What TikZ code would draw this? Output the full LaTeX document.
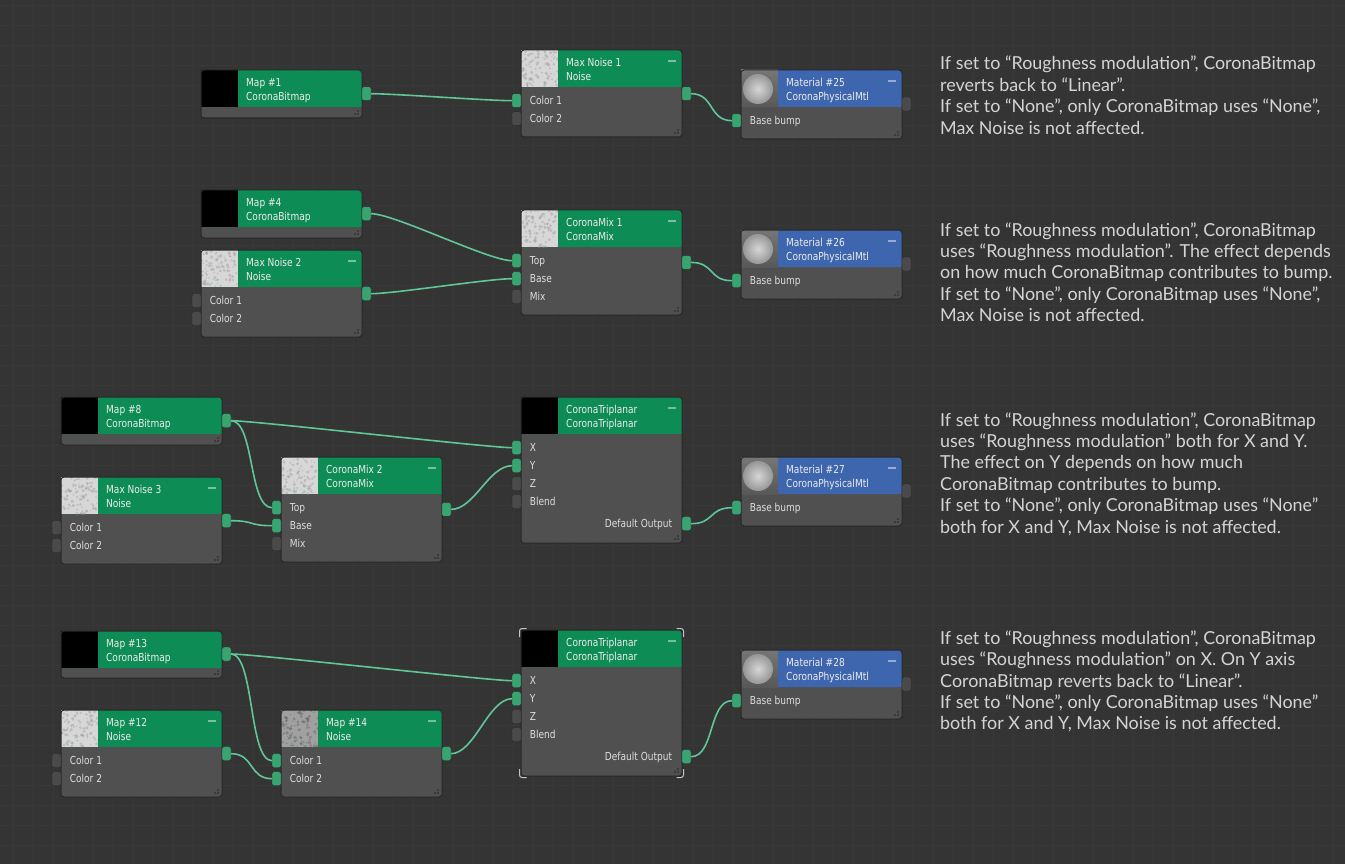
\documentclass[tikz,border=0pt]{standalone}
\usepackage{fontspec}
\newfontfamily\nodefont[FakeStretch=0.82]{DejaVu Sans}
\newfontfamily\notefont{Lato}
\usetikzlibrary{positioning}
\usetikzlibrary{calc}

\tikzset{
  card/.style={anchor=north west, minimum width=161pt, inner sep=0pt, outer sep=0pt},
  cardline/.style={draw=cardedge, line width=1pt, rounded corners=3pt},
  cardtitle/.style={anchor=base west, inner sep=0pt, text=nodetext, font=\nodefont\fontsize{11}{13}\selectfont},
  rowlabel/.style={cardtitle, text=rowtext},
  sockon/.style={draw=sockedge, fill=sockgreen, rounded corners=2pt, minimum width=9pt, minimum height=14pt, inner sep=0pt, outer sep=0pt},
  sockoff/.style={sockon, fill=sockgrey},
  wire/.style={draw=wiregreen, line width=1.6pt, to path={.. controls +(28,0) and +(-28,0) .. (\tikztotarget)}},
  foldbar/.style={draw=white, opacity=0.45, line width=1.6pt},
  selmark/.style={draw=selgrey, line width=1pt, rounded corners=2.5pt},
  note/.style={anchor=base west, align=left, inner sep=0pt, text=notetext, font=\notefont\fontsize{17.9}{21.4}\selectfont},
}

% card with header, thumbnail and resize grip
\newcommand{\card}[7]{%
  \node[card, minimum height=#3] (#1) at (#2) {};
  \fill[cardbody, rounded corners=3pt] (#1.north west) rectangle (#1.south east);
  \fill[#4, rounded corners=3pt] (#1.north west) rectangle ($(#1.north east)+(0,37)$);
  \fill[#4] ($(#1.north west)+(0,30)$) rectangle ($(#1.north east)+(0,37)$);
  \csname thumb#7\endcsname{#1}
  \node[cardtitle] (#1-title) at ($(#1.north west)+(45,16.7)$) {#5};
  \node[cardtitle] (#1-type) at ($(#1.north west)+(45,30.3)$) {#6};
  \foreach \gx/\gy in {4/4,7/4,4/7}
    \fill[gripdot] ($(#1.south east)+(-\gx,-\gy)$) circle (0.8pt);
  \draw[cardline] (#1.north west) rectangle (#1.south east);}

\newcommand{\noisethumb}[3]{%
  \begin{scope}
    \clip (#1.north west) rectangle ($(#1.north west)+(37,37)$);
    \fill[#2] (#1.north west) rectangle ($(#1.north west)+(37,37)$);
    \foreach \k in {1,...,90}{
      \pgfmathsetmacro{\nx}{37*rnd}
      \pgfmathsetmacro{\ny}{37*rnd}
      \pgfmathsetmacro{\nr}{0.6+1.3*rnd}
      \fill[#3, opacity=0.4] ($(#1.north west)+(\nx,\ny)$) circle (\nr pt);
    }
  \end{scope}}
\newcommand{\thumbnoise}[1]{\noisethumb{#1}{noiselight}{noisespot}}
\newcommand{\thumbnoisedark}[1]{\noisethumb{#1}{noisemid}{noisedeep}}
\newcommand{\thumbblack}[1]{\fill[black] (#1.north west) rectangle ($(#1.north west)+(37,37)$);}
\newcommand{\thumbsphere}[1]{%
  \shade[top color=spheretop, bottom color=spherebot] (#1.north west) rectangle ($(#1.north west)+(37,37)$);
  \shade[inner color=spherehi, outer color=spheredim] ($(#1.north west)+(17,19)$) circle (15pt);}

\newcommand{\foldmark}[1]{\draw[foldbar] ($(#1.north east)+(-14,11)$) -- ++(8,0);}
\newcommand{\inport}[5]{%
  \node[#4] (#1-#2) at ($(#1.north west)+(-4.5,#3)$) {};
  \node[rowlabel] at ($(#1.north west)+(8.7,#3+3.7)$) {#5};}
\newcommand{\outport}[3]{\node[#3] (#1-out) at ($(#1.north east)+(4.5,#2)$) {};}

\begin{document}
\begin{tikzpicture}[x=1pt, y=-1pt]
% Colors
\definecolor{canvas}{RGB}{52,52,52}
\definecolor{gridtone}{RGB}{56,56,56}
\definecolor{cardbody}{RGB}{80,80,80}
\definecolor{cardedge}{RGB}{40,40,40}
\definecolor{hdrgreen}{RGB}{14,140,86}
\definecolor{hdrblue}{RGB}{62,102,174}
\definecolor{nodetext}{RGB}{236,236,236}
\definecolor{rowtext}{RGB}{222,222,222}
\definecolor{notetext}{RGB}{212,212,212}
\definecolor{sockgreen}{RGB}{56,164,112}
\definecolor{sockgrey}{RGB}{74,74,74}
\definecolor{sockedge}{RGB}{42,42,42}
\definecolor{wiregreen}{RGB}{96,198,152}
\definecolor{gripdot}{RGB}{38,38,38}
\definecolor{selgrey}{RGB}{196,196,196}
\definecolor{noiselight}{RGB}{215,215,215}
\definecolor{noisespot}{RGB}{150,150,150}
\definecolor{noisemid}{RGB}{160,160,160}
\definecolor{noisedeep}{RGB}{85,85,85}
\definecolor{spheretop}{RGB}{118,118,118}
\definecolor{spherebot}{RGB}{88,88,88}
\definecolor{spherehi}{RGB}{214,214,214}
\definecolor{spheredim}{RGB}{150,150,150}
\pgfmathsetseed{7}

% Canvas
\useasboundingbox (0,0) rectangle (1345,864);
\fill[canvas] (0,0) rectangle (1345,864);
\foreach \gx in {13,33,...,1333} \draw[gridtone] (\gx,0) -- (\gx,864);
\foreach \gy in {5,25,...,845} \draw[gridtone] (0,\gy) -- (1345,\gy);

% Group 1
\card{map1}{201,70}{48}{hdrgreen}{Map \#1}{CoronaBitmap}{black}
\outport{map1}{23.7}{sockon}
\card{noise1}{521,50}{87}{hdrgreen}{Max Noise 1}{Noise}{noise}
\foldmark{noise1}
\inport{noise1}{c1}{50.7}{sockon}{Color 1}
\inport{noise1}{c2}{68.7}{sockoff}{Color 2}
\outport{noise1}{43.7}{sockon}
\card{mat25}{741,70}{69}{hdrblue}{Material \#25}{CoronaPhysicalMtl}{sphere}
\foldmark{mat25}
\inport{mat25}{bump}{50.7}{sockon}{Base bump}
\outport{mat25}{34}{sockoff}

\draw[wire] (map1-out) to (noise1-c1);
\draw[wire] (noise1-out) to (mat25-bump);

% Group 2
\card{map4}{201,190}{48}{hdrgreen}{Map \#4}{CoronaBitmap}{black}
\outport{map4}{23.7}{sockon}
\card{noise2}{201,250}{87}{hdrgreen}{Max Noise 2}{Noise}{noise}
\foldmark{noise2}
\inport{noise2}{c1}{50.7}{sockoff}{Color 1}
\inport{noise2}{c2}{68.7}{sockoff}{Color 2}
\outport{noise2}{43.7}{sockon}
\card{mix1}{521,210}{105}{hdrgreen}{CoronaMix 1}{CoronaMix}{noise}
\foldmark{mix1}
\inport{mix1}{top}{50.7}{sockon}{Top}
\inport{mix1}{base}{68.7}{sockon}{Base}
\inport{mix1}{mix}{86.7}{sockoff}{Mix}
\outport{mix1}{52.4}{sockon}
\card{mat26}{741,230}{69}{hdrblue}{Material \#26}{CoronaPhysicalMtl}{sphere}
\foldmark{mat26}
\inport{mat26}{bump}{50.7}{sockon}{Base bump}
\outport{mat26}{34}{sockoff}

\draw[wire] (map4-out) to (mix1-top);
\draw[wire] (noise2-out) to (mix1-base);
\draw[wire] (mix1-out) to (mat26-bump);

% Group 3
\card{map8}{61,397}{48}{hdrgreen}{Map \#8}{CoronaBitmap}{black}
\outport{map8}{23.7}{sockon}
\card{noise3}{61,477}{87}{hdrgreen}{Max Noise 3}{Noise}{noise}
\foldmark{noise3}
\inport{noise3}{c1}{50.7}{sockoff}{Color 1}
\inport{noise3}{c2}{68.7}{sockoff}{Color 2}
\outport{noise3}{43.7}{sockon}
\card{mix2}{281,457}{105}{hdrgreen}{CoronaMix 2}{CoronaMix}{noise}
\foldmark{mix2}
\inport{mix2}{top}{50.7}{sockon}{Top}
\inport{mix2}{base}{68.7}{sockon}{Base}
\inport{mix2}{mix}{86.7}{sockoff}{Mix}
\outport{mix2}{52.4}{sockon}
\card{tri1}{521,397}{146}{hdrgreen}{CoronaTriplanar}{CoronaTriplanar}{black}
\foldmark{tri1}
\inport{tri1}{x}{50.7}{sockon}{X}
\inport{tri1}{y}{68.7}{sockon}{Y}
\inport{tri1}{z}{86.7}{sockoff}{Z}
\inport{tri1}{blend}{104.7}{sockoff}{Blend}
\node[rowlabel, anchor=base east] at ($(tri1.north east)+(-9.7,130.4)$) {Default Output};
\outport{tri1}{126.7}{sockon}
\card{mat27}{741,457}{69}{hdrblue}{Material \#27}{CoronaPhysicalMtl}{sphere}
\foldmark{mat27}
\inport{mat27}{bump}{50.7}{sockon}{Base bump}
\outport{mat27}{34}{sockoff}

\draw[wire] (map8-out) to (tri1-x);
\draw[wire] (map8-out) to (mix2-top);
\draw[wire] (noise3-out) to (mix2-base);
\draw[wire] (mix2-out) to (tri1-y);
\draw[wire] (tri1-out) to (mat27-bump);

% Group 4
\card{map13}{61,631}{47}{hdrgreen}{Map \#13}{CoronaBitmap}{black}
\outport{map13}{23}{sockon}
\card{map12}{61,710}{87}{hdrgreen}{Map \#12}{Noise}{noise}
\foldmark{map12}
\inport{map12}{c1}{50.7}{sockoff}{Color 1}
\inport{map12}{c2}{68.7}{sockoff}{Color 2}
\outport{map12}{43.7}{sockon}
\card{map14}{281,710}{87}{hdrgreen}{Map \#14}{Noise}{noisedark}
\foldmark{map14}
\inport{map14}{c1}{50.7}{sockon}{Color 1}
\inport{map14}{c2}{68.7}{sockon}{Color 2}
\outport{map14}{43.7}{sockon}
\card{tri2}{521,630}{146}{hdrgreen}{CoronaTriplanar}{CoronaTriplanar}{black}
\foldmark{tri2}
\inport{tri2}{x}{50.7}{sockon}{X}
\inport{tri2}{y}{68.7}{sockon}{Y}
\inport{tri2}{z}{86.7}{sockoff}{Z}
\inport{tri2}{blend}{104.7}{sockoff}{Blend}
\node[rowlabel, anchor=base east] at ($(tri2.north east)+(-9.7,130.4)$) {Default Output};
\outport{tri2}{126.7}{sockon}
\card{mat28}{741,650}{69}{hdrblue}{Material \#28}{CoronaPhysicalMtl}{sphere}
\foldmark{mat28}
\inport{mat28}{bump}{50.7}{sockon}{Base bump}
\outport{mat28}{34}{sockoff}

% selection corners
\draw[selmark] ($(tri2.north west)+(-1.5,7)$) |- ++(7,-8.5);
\draw[selmark] ($(tri2.north east)+(1.5,7)$) |- ++(-7,-8.5);
\draw[selmark] ($(tri2.south west)+(-1.5,-7)$) |- ++(7,8.5);
\draw[selmark] ($(tri2.south east)+(1.5,-7)$) |- ++(-7,8.5);

\draw[wire] (map13-out) to (tri2-x);
\draw[wire] (map13-out) to (map14-c1);
\draw[wire] (map12-out) to (map14-c2);
\draw[wire] (map14-out) to (tri2-y);
\draw[wire] (tri2-out) to (mat28-bump);

% Notes (anchored on the baseline of the last line)
\node[note] (note1) at (940,134.2) {If set to “Roughness modulation”, CoronaBitmap\\reverts back to “Linear”.\\If set to “None”, only CoronaBitmap uses “None”,\\Max Noise is not affected.};
\node[note] (note2) at (940,321.6) {If set to “Roughness modulation”, CoronaBitmap\\uses “Roughness modulation”. The effect depends\\on how much CoronaBitmap contributes to bump.\\If set to “None”, only CoronaBitmap uses “None”,\\Max Noise is not affected.};
\node[note] (note3) at (940,533) {If set to “Roughness modulation”, CoronaBitmap\\uses “Roughness modulation” both for X and Y.\\The effect on Y depends on how much\\CoronaBitmap contributes to bump.\\If set to “None”, only CoronaBitmap uses “None”\\both for X and Y, Max Noise is not affected.};
\node[note] (note4) at (940,729.9) {If set to “Roughness modulation”, CoronaBitmap\\uses “Roughness modulation” on X. On Y axis\\CoronaBitmap reverts back to “Linear”.\\If set to “None”, only CoronaBitmap uses “None”\\both for X and Y, Max Noise is not affected.};
\end{tikzpicture}
\end{document}
